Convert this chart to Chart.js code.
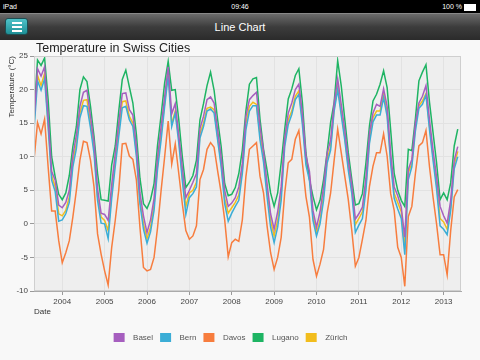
<!DOCTYPE html>
<html>
<head>
<meta charset="utf-8">
<script src="https://cdn.jsdelivr.net/npm/chart.js"></script>
<style>
  html, body { margin: 0; padding: 0; }
  body {
    width: 480px; height: 360px; overflow: hidden; position: relative;
    background: #f8f8f8;
    font-family: 'Liberation Sans', Arial, sans-serif;
  }
  #status {
    position: absolute; left: 0; top: 0; width: 480px; height: 13px;
    background: #000; color: #fff; font-size: 7px; line-height: 13px;
  }
  #status .l { position: absolute; left: 3px; }
  #status .c { position: absolute; left: 0; width: 480px; text-align: center; }
  #status .r { position: absolute; right: 18px; }
  #status .bat {
    position: absolute; right: 4px; top: 4px; width: 10px; height: 5px;
    background: #fff; border: 1px solid #fff;
  }
  #nav {
    position: absolute; left: 0; top: 13px; width: 480px; height: 27px;
    background: linear-gradient(#6b6b6b, #3c3c3c 50%, #2b2b2b);
    border-top: 1px solid #888; box-sizing: border-box;
    color: #fff; font-size: 11px; text-align: center; line-height: 26px;
  }
  #menu {
    position: absolute; left: 5px; top: 4px; width: 23px; height: 17px;
    border-radius: 3px; border: 1px solid #1d4e52; box-sizing: border-box;
    background: linear-gradient(#4fc3c9, #1e8f96);
  }
  #menu span {
    position: absolute; left: 6px; width: 10px; height: 2px; background: #fff;
  }
  #wrap { position: absolute; left: 0; top: 40px; width: 480px; height: 320px; }
</style>
</head>
<body>
<div id="status"><span class="l">iPad</span><span class="c">09:46</span><span class="r">100 %</span><span class="bat"></span></div>
<div id="nav">
  <div id="menu"><span style="top:3px"></span><span style="top:7px"></span><span style="top:11px"></span></div>
  Line Chart
</div>
<div id="wrap"><canvas id="chart" width="480" height="320"></canvas></div>
<script>
// monthly mean temperatures, first value = May 2003, last = May 2013
const startYear = 2003;
const startMonth = 5;
const yearTicks = [2004, 2005, 2006, 2007, 2008, 2009, 2010, 2011, 2012, 2013];
const cities = ['Basel', 'Bern', 'Davos', 'Lugano', 'Zürich'];
const colors = ['#a65fbf', '#3badd6', '#f77d3e', '#1eb463', '#f2bd1d'];

const basel = [
  15.5, 23.1, 22.0, 23.4, 16.0, 7.8, 6.5, 2.8,
  2.4, 3.2, 5.0, 10.2, 13.2, 17.5, 19.6, 19.9, 16.0, 12.2, 5.2, 1.6,
  1.4, 0.5, 5.8, 10.5, 15.0, 19.4, 19.5, 17.0, 16.2, 11.6, 4.6, 1.2,
  -1.3, 0.6, 3.8, 10.0, 14.5, 19.0, 23.4, 16.4, 17.9, 13.2, 8.4, 3.9,
  5.0, 6.2, 7.5, 14.2, 16.0, 18.5, 18.9, 18.0, 14.0, 10.0, 5.0, 2.6,
  3.1, 3.9, 5.5, 9.0, 16.0, 18.5, 19.1, 19.6, 14.5, 10.8, 6.0, 1.5,
  -0.8, 1.8, 5.5, 12.8, 16.5, 18.0, 20.0, 20.8, 16.5, 10.2, 7.8, 2.0,
  -0.5, 1.8, 5.5, 10.5, 12.5, 18.0, 21.6, 17.8, 14.0, 9.5, 5.8, 0.7,
  1.5, 2.5, 6.8, 13.5, 16.5, 17.8, 17.5, 20.1, 17.5, 10.5, 5.5, 4.2,
  2.5, -2.0, 8.1, 9.6, 15.0, 18.0, 19.0, 20.6, 15.5, 11.0, 7.0, 2.6,
  1.2, 0.1, 3.5, 9.5, 11.5
];
const bern = [
  14.0, 21.3, 19.9, 21.6, 14.5, 6.5, 4.8, 0.4,
  0.6, 1.5, 3.2, 8.5, 11.2, 15.8, 17.6, 17.5, 14.3, 10.5, 3.5, 0.1,
  0.0, -2.2, 3.8, 8.5, 13.0, 17.3, 17.5, 15.5, 14.5, 10.0, 3.0, -0.8,
  -2.9, -1.2, 2.0, 8.2, 12.5, 17.5, 22.0, 14.5, 16.5, 12.0, 6.5, 1.4,
  3.9, 4.5, 5.5, 12.8, 14.5, 16.8, 17.1, 16.5, 12.5, 8.5, 3.0, 0.4,
  1.6, 2.6, 3.5, 7.5, 14.0, 16.8, 17.6, 17.6, 12.5, 9.2, 4.0, -0.5,
  -2.8, -0.5, 3.5, 11.5, 14.8, 16.3, 18.5, 19.3, 14.8, 8.8, 6.5, 0.5,
  -1.8, 0.0, 3.5, 9.0, 11.0, 16.8, 20.0, 16.2, 12.5, 8.0, 4.5, -1.3,
  -0.2, 0.8, 5.0, 12.0, 15.2, 16.2, 16.2, 18.8, 16.0, 9.0, 3.8, 2.2,
  0.8, -4.6, 6.6, 8.5, 13.8, 17.2, 17.8, 19.2, 14.0, 9.5, 5.2, -0.3,
  -0.8, -1.6, 2.0, 8.2, 10.0
];
const davos = [
  9.5, 15.1, 13.4, 15.6, 8.5, 1.9, 1.9, -2.5,
  -5.8, -4.3, -2.5, 1.0, 5.0, 9.5, 12.3, 12.1, 9.5, 5.5, -1.5, -4.5,
  -7.0, -9.1, -3.5, 0.5, 5.0, 11.9, 12.0, 10.1, 9.6, 6.5, -0.5, -6.5,
  -7.0, -6.8, -5.0, -0.5, 5.0, 10.0, 15.3, 8.9, 11.9, 7.5, 3.0, -1.0,
  -2.3, -1.8, -0.3, 6.6, 8.1, 11.1, 12.1, 11.4, 7.9, 4.6, 0.6, -4.9,
  -2.8, -2.3, -2.6, 0.6, 7.0, 11.1, 11.6, 12.1, 7.1, 4.6, -0.3, -4.3,
  -6.8, -5.0, -2.0, 4.6, 9.1, 9.6, 12.6, 13.9, 9.1, 4.1, 1.0, -5.3,
  -7.8, -6.0, -3.8, 1.6, 4.6, 9.5, 14.1, 10.6, 7.1, 3.6, -1.0, -6.3,
  -5.0, -2.3, 0.5, 5.6, 8.6, 10.6, 10.6, 13.4, 10.1, 4.5, 2.0, -3.5,
  -5.0, -9.3, 1.1, 2.6, 7.5, 11.6, 12.1, 13.9, 8.5, 4.0, 0.0, -4.6,
  -4.6, -7.6, -1.0, 4.0, 5.1
];
const lugano = [
  16.1, 24.4, 23.6, 24.7, 18.5, 10.0, 7.0, 4.4,
  3.6, 4.6, 7.2, 11.5, 14.5, 20.0, 21.9, 21.2, 17.5, 13.0, 7.5, 3.6,
  3.5, 3.4, 8.8, 11.6, 16.8, 21.5, 22.9, 20.4, 18.0, 13.3, 6.8, 3.0,
  2.3, 3.6, 6.0, 11.8, 16.2, 21.0, 24.2, 19.9, 20.0, 15.5, 10.0, 5.4,
  6.2, 7.2, 9.5, 15.5, 17.9, 20.6, 22.6, 19.9, 15.5, 11.5, 6.0, 4.2,
  4.4, 5.4, 7.5, 11.0, 16.8, 20.8, 21.6, 21.8, 15.6, 11.1, 8.0, 4.6,
  2.6, 4.6, 9.1, 14.1, 18.6, 20.1, 22.1, 23.1, 18.1, 10.6, 6.6, 4.1,
  2.1, 3.5, 6.6, 10.6, 15.1, 18.1, 24.3, 20.6, 15.6, 10.6, 6.6, 2.8,
  3.0, 4.5, 9.1, 14.6, 18.3, 19.3, 20.8, 22.8, 20.3, 14.0, 7.5, 5.0,
  3.5, 2.6, 11.1, 10.9, 15.6, 21.3, 22.6, 23.7, 18.1, 13.6, 9.1, 3.6,
  4.6, 3.6, 6.1, 11.6, 14.1
];
const zurich = [
  15.0, 22.1, 20.6, 22.4, 15.0, 7.2, 5.5, 1.5,
  1.2, 2.0, 4.0, 9.3, 12.0, 16.5, 18.4, 18.5, 15.0, 11.2, 4.0, 1.0,
  0.5, -1.0, 4.6, 9.3, 14.0, 18.2, 18.3, 16.0, 15.0, 10.8, 3.5, 0.0,
  -2.2, -0.5, 2.8, 9.0, 13.5, 18.0, 22.9, 14.9, 16.8, 12.8, 7.0, 2.6,
  4.6, 5.0, 6.2, 13.5, 15.0, 17.2, 17.4, 17.0, 13.0, 9.0, 3.8, 1.6,
  2.4, 3.2, 4.3, 8.2, 15.0, 17.5, 18.1, 17.8, 13.3, 10.0, 5.0, 0.5,
  -1.8, 0.5, 4.5, 12.3, 15.5, 16.8, 19.0, 19.8, 15.5, 9.5, 7.2, 1.2,
  -1.3, 0.5, 4.3, 9.6, 11.5, 17.2, 20.4, 16.8, 13.0, 8.6, 5.2, -0.1,
  0.8, 1.8, 5.8, 12.6, 15.8, 16.8, 16.8, 19.4, 16.6, 9.6, 4.5, 3.2,
  1.8, -3.8, 7.6, 9.0, 14.5, 17.6, 18.3, 19.4, 14.6, 10.0, 6.0, 0.8,
  0.3, -0.8, 2.5, 8.8, 10.8
];

const series = [basel, bern, davos, lugano, zurich];
// month index -> decimal year (first day of month)
const monthX = basel.map((v, i) => startYear + (startMonth - 1 + i) / 12);

Chart.defaults.font.family = "'Liberation Sans', Arial, sans-serif";
Chart.defaults.font.size = 8;
Chart.defaults.color = '#555';

const plotBackground = {
  id: 'plotBackground',
  beforeDraw(chart) {
    const { ctx, chartArea: a } = chart;
    ctx.save();
    ctx.fillStyle = '#eeeeee';
    ctx.fillRect(a.left, a.top, a.right - a.left, a.bottom - a.top);
    ctx.restore();
  },
  afterDraw(chart) {
    const { ctx, chartArea: a } = chart;
    ctx.save();
    ctx.strokeStyle = '#cfcfcf';
    ctx.lineWidth = 1;
    ctx.strokeRect(a.left + 0.5, a.top + 0.5, a.right - a.left - 1, a.bottom - a.top - 1);
    ctx.fillStyle = '#222';
    ctx.font = "12.5px 'Liberation Sans', Arial, sans-serif";
    ctx.textBaseline = 'alphabetic';
    ctx.fillText('Temperature in Swiss Cities', a.left + 2, a.top - 4);
    ctx.restore();
  }
};

new Chart(document.getElementById('chart'), {
  type: 'line',
  data: {
    labels: monthX,
    datasets: cities.map((c, i) => ({
      label: c,
      data: series[i],
      borderColor: colors[i],
      backgroundColor: colors[i],
      borderWidth: 1.5,
      pointRadius: 0,
      tension: 0,
      fill: false
    }))
  },
  options: {
    responsive: false,
    animation: false,
    layout: { padding: { top: 16, right: 19, bottom: 8, left: 0 } },
    scales: {
      x: {
        type: 'linear',
        min: startYear + (startMonth - 1) / 12,
        max: 2013.41,
        afterBuildTicks: s => { s.ticks = yearTicks.map(v => ({ value: v })); },
        afterFit: s => { s.height = 35; },
        ticks: { callback: v => String(v), color: '#444', padding: 2, maxRotation: 0 },
        grid: { color: '#e2e2e2', tickColor: '#999', tickLength: 4 },
        border: { color: '#aaa' },
        title: { display: true, text: 'Date', align: 'start', color: '#333', padding: { top: 0, bottom: 9 } }
      },
      y: {
        min: -10,
        max: 25,
        afterFit: s => { s.width = 34; },
        ticks: { stepSize: 5, color: '#444', padding: 2 },
        grid: { color: '#e2e2e2', tickColor: '#999', tickLength: 4 },
        border: { color: '#aaa' },
        title: { display: true, text: 'Temperature (°C)', align: 'end', color: '#333', padding: { top: 7, bottom: 0 } }
      }
    },
    plugins: {
      legend: {
        position: 'bottom',
        labels: {
          boxWidth: 11,
          boxHeight: 9,
          padding: 7,
          color: '#555',
          generateLabels(chart) {
            const items = Chart.defaults.plugins.legend.labels.generateLabels(chart);
            items.forEach(it => { it.text = '  ' + it.text; it.lineWidth = 0; });
            return items;
          }
        }
      },
      tooltip: { enabled: false }
    }
  },
  plugins: [plotBackground]
});
</script>
</body>
</html>
